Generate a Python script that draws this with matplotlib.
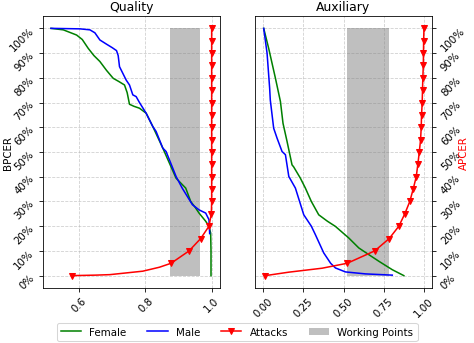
import matplotlib
matplotlib.use("Agg")
import matplotlib.pyplot as plt
from matplotlib.ticker import PercentFormatter
from matplotlib.patches import Patch
from matplotlib.lines import Line2D

# ---------------- data ----------------
# Quality panel
q_female_x = [0.516, 0.553, 0.593, 0.61, 0.628, 0.645, 0.663, 0.683, 0.703, 0.72, 0.737, 0.745,
              0.752, 0.765, 0.782, 0.802, 0.822, 0.852, 0.872, 0.892, 0.921, 0.936, 0.95, 0.961,
              0.981, 0.991, 0.996, 0.997, 0.997]
q_female_y = [100, 99.4, 97.3, 95.5, 91.9, 89, 86.6, 83, 79.8, 78.5, 77.1, 74,
              69.3, 68.5, 67.7, 65.7, 60.3, 51.6, 45.5, 39.4, 35.4, 30, 27.5, 25.3,
              22, 19.9, 17.2, 10, 0]
q_male_x = [0.516, 0.603, 0.633, 0.648, 0.663, 0.683, 0.70, 0.713, 0.718, 0.722, 0.732, 0.742,
            0.752, 0.762, 0.772, 0.782, 0.802, 0.822, 0.832, 0.852, 0.862, 0.892, 0.91, 0.941,
            0.961, 0.981, 0.991, 0.993]
q_male_y = [100, 99.8, 99.4, 98.2, 95.3, 93.6, 92.2, 91, 89, 84.5, 81.8, 79.1,
            77.1, 73.1, 72.4, 70, 65.7, 60.3, 58.3, 51.6, 50.2, 40.1, 35.5, 28.7,
            26.6, 25.3, 22.6, 17]
q_attack_x = [0.579, 0.65, 0.693, 0.792, 0.842, 0.877, 0.931, 0.966, 0.991, 0.998, 0.999, 0.999,
              0.999, 0.999, 0.999, 0.999, 0.999, 0.999, 0.999, 0.999, 0.999, 0.999, 0.999, 0.999,
              0.999]
q_attack_y = [0, 0.2, 0.4, 1.8, 3.4, 5, 10, 15, 20, 25, 30, 35,
              40, 45, 50, 55, 60, 65, 70, 75, 80, 85, 90, 95,
              100]
q_working = [0.875, 0.965]

# Auxiliary panel
a_female_x = [0.004, 0.035, 0.077, 0.108, 0.124, 0.149, 0.18, 0.19, 0.232, 0.263, 0.30, 0.346,
              0.40, 0.45, 0.533, 0.595, 0.657, 0.72, 0.803, 0.875]
a_female_y = [100, 91.9, 79.8, 70.4, 61.6, 54.3, 44.8, 44, 39.4, 35.4, 30, 24.6,
              22, 19.9, 15.2, 11.2, 8.5, 5.8, 2.4, 0]
a_male_x = [0.004, 0.025, 0.041, 0.045, 0.066, 0.087, 0.118, 0.139, 0.16, 0.201, 0.253, 0.30,
            0.325, 0.377, 0.42, 0.45, 0.512, 0.637, 0.803]
a_male_y = [100, 89.9, 75.8, 71, 59.6, 55.6, 50.2, 48.9, 40.1, 35.4, 24.6, 20,
            16.6, 9.2, 5, 3.1, 1.5, 0.7, 0.2]
a_attack_x = [0.014, 0.16, 0.367, 0.523, 0.694, 0.784, 0.844, 0.881, 0.912, 0.933, 0.952, 0.962,
              0.971, 0.979, 0.983, 0.985, 0.989, 0.991, 0.993, 0.996, 0.997, 0.998, 1.0]
a_attack_y = [0, 1.4, 3.0, 5, 10, 15, 20, 25, 30, 35, 40, 45,
              50, 55, 60, 65, 70, 75, 80, 85, 90, 95, 100]
a_working = [0.523, 0.784]

titles = ["Quality", "Auxiliary"]
legend_labels = ["Female", "Male", "Attacks", "Working Points"]

# ---------------- figure ----------------
DPI = 74
fig = plt.figure(figsize=(474 / DPI, 344 / DPI), dpi=DPI)
ax1 = fig.add_axes([0.0907, 0.1599, 0.3734, 0.7907])
ax2 = fig.add_axes([0.538, 0.1599, 0.3734, 0.7907])


def marker_idx(ys):
    return [i for i, v in enumerate(ys) if abs(v - round(v / 5) * 5) < 1e-9]


def draw(ax, fx, fy, mx, my, atx, aty, wp, title):
    ax.set_axisbelow(True)
    ax.grid(True, linestyle='--', color='#b0b0b0', alpha=0.6, linewidth=0.8)
    ax.fill_between(wp, [0, 0], [100, 100], color='gray', alpha=0.5, linewidth=0)
    ax.plot(fx, fy, color='green', linewidth=1.5)
    ax.plot(mx, my, color='blue', linewidth=1.5)
    ax.plot(atx, aty, color='red', marker='v', markevery=marker_idx(aty),
            markersize=6, linewidth=1.5)
    ax.set_title(title, fontsize=12)
    ax.set_ylim(-5, 105)
    ax.set_yticks(range(0, 101, 10))
    ax.yaxis.set_major_formatter(PercentFormatter(xmax=100, decimals=0))
    ax.tick_params(axis='both', labelsize=10)
    for lab in ax.get_xticklabels() + ax.get_yticklabels():
        lab.set_rotation(45)


draw(ax1, q_female_x, q_female_y, q_male_x, q_male_y, q_attack_x, q_attack_y, q_working, titles[0])
ax1.set_xlim(0.492, 1.024)
ax1.set_xticks([0.6, 0.8, 1.0])
ax1.set_xticklabels(["0.6", "0.8", "1.0"], rotation=45)
ax1.set_ylabel("BPCER", fontsize=10)
ax1.yaxis.set_label_coords(-0.172, 0.5)

draw(ax2, a_female_x, a_female_y, a_male_x, a_male_y, a_attack_x, a_attack_y, a_working, titles[1])
ax2.set_xlim(-0.05, 1.05)
ax2.set_xticks([0, 0.25, 0.5, 0.75, 1.0])
ax2.set_xticklabels(["0.00", "0.25", "0.50", "0.75", "1.00"], rotation=45)
ax2.yaxis.tick_right()
ax2.yaxis.set_label_position('right')
for lab in ax2.get_yticklabels():
    lab.set_rotation(45)
ax2.set_ylabel("APCER", color='red', fontsize=10)
ax2.yaxis.set_label_coords(1.153, 0.5)

handles = [Line2D([], [], color='green', linewidth=1.5),
           Line2D([], [], color='blue', linewidth=1.5),
           Line2D([], [], color='red', marker='v', markersize=6, linewidth=1.5),
           Patch(facecolor='gray', alpha=0.5, edgecolor='none')]
fig.legend(handles, legend_labels, loc='center', bbox_to_anchor=(0.5, 0.032), ncol=4,
           fontsize=10, handlelength=2.0, columnspacing=2.0)

fig.savefig("out.png", dpi=DPI)
